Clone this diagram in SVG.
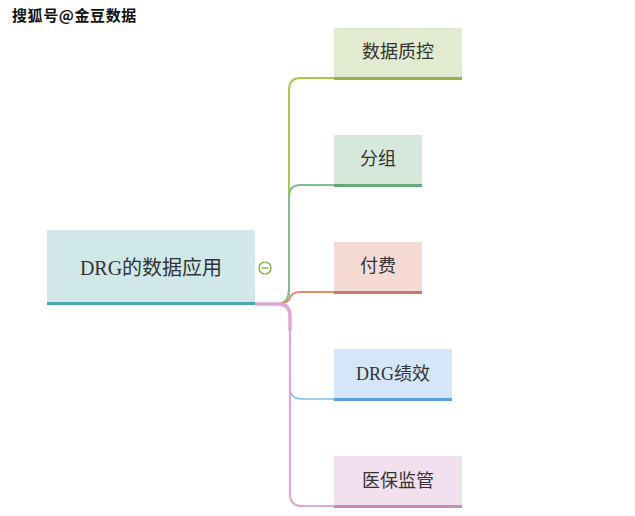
<svg xmlns="http://www.w3.org/2000/svg" width="635" height="516" viewBox="0 0 635 516">
<style>
.lbl{font-family:"Liberation Serif","Noto Sans CJK SC",serif;fill:#333;text-anchor:middle;dominant-baseline:central}
.c{fill:none;stroke-linecap:butt}
.wm{font-family:"Noto Sans CJK SC",sans-serif;font-weight:bold;font-size:15px;letter-spacing:0.6px;fill:#111;stroke:#fff;stroke-width:2.5;paint-order:stroke}
</style>
<rect width="635" height="516" fill="#fff"/>
<text class="wm" x="12" y="21">搜狐号@金豆数据</text>
<g id="connectors">
<path class="c" d="M 280 304 Q 289 302 289 290 L 289 90 Q 289 78 301 78 L 334 78" stroke="#a8c84a" stroke-width="2"/>
<path class="c" d="M 280 304 Q 289 302 289 290 L 289 197 Q 289 185 301 185 L 334 185" stroke="#80bf8c" stroke-width="2"/>
<path class="c" d="M 280 304 Q 289 302 290 298 Q 292 292 300 292 L 334 292" stroke="#e08a70" stroke-width="2"/>
<path class="c" d="M 290 316 L 290 388 Q 290 399 302 399 L 334 399" stroke="#7ec0ea" stroke-width="1.5"/>
<path class="c" d="M 290 316 L 290 494 Q 290 506 302 506 L 334 506" stroke="#e0a8d8" stroke-width="2.2"/>
<path class="c" d="M 255 304 L 278 304 Q 290 304 290 316 L 290 330" stroke="#e0a8d8" stroke-width="3.5"/>
</g>
<g id="root">
<rect x="47" y="230" width="208" height="75" fill="#d0e8ea"/>
<rect x="47" y="302" width="208" height="3" fill="#4aa8a8"/>
<text class="lbl" x="151" y="268" font-size="20">DRG的数据应用</text>
<circle cx="265" cy="268" r="6" fill="#fff" stroke="#6aa830" stroke-width="1.2"/>
<line x1="261.5" y1="268" x2="268.5" y2="268" stroke="#6aa830" stroke-width="1.2"/>
</g>
<g id="n1">
<rect x="334" y="28" width="128" height="52" fill="#e2ead0"/>
<rect x="334" y="77" width="128" height="3" fill="#97b04a"/>
<text class="lbl" x="398" y="52" font-size="18">数据质控</text>
</g>
<g id="n2">
<rect x="334" y="135" width="88" height="52" fill="#d6e8db"/>
<rect x="334" y="184" width="88" height="3" fill="#6aa87a"/>
<text class="lbl" x="378" y="159" font-size="18">分组</text>
</g>
<g id="n3">
<rect x="334" y="242" width="88" height="52" fill="#f5dad4"/>
<rect x="334" y="291" width="88" height="3" fill="#c87a68"/>
<text class="lbl" x="378" y="266" font-size="18">付费</text>
</g>
<g id="n4">
<rect x="334" y="349" width="118" height="52" fill="#d4e6f7"/>
<rect x="334" y="398" width="118" height="3" fill="#5aa0d8"/>
<text class="lbl" x="393" y="374" font-size="18">DRG绩效</text>
</g>
<g id="n5">
<rect x="334" y="456" width="128" height="52" fill="#f2e0ee"/>
<rect x="334" y="505" width="128" height="3" fill="#c48ab8"/>
<text class="lbl" x="398" y="481" font-size="18">医保监管</text>
</g>
</svg>
